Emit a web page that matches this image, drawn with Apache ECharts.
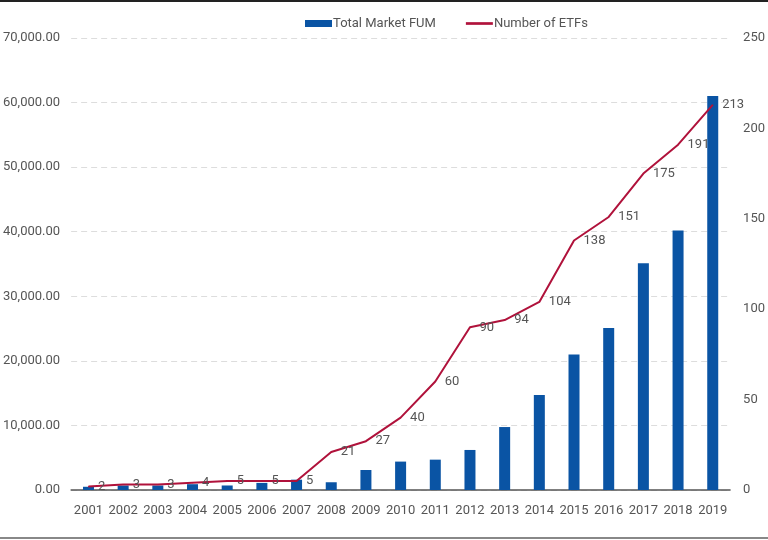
<!DOCTYPE html>
<html>
<head>
<meta charset="utf-8">
<script src="https://cdn.jsdelivr.net/npm/echarts@6/dist/echarts.min.js"></script>
<style>html,body{margin:0;padding:0;background:#fff;}#c{width:768px;height:540px;}</style>
</head>
<body>
<div id="c"></div>
<script>
const years = ['2001','2002','2003','2004','2005','2006','2007','2008','2009','2010','2011','2012','2013','2014','2015','2016','2017','2018','2019'];
const totalMarketFUM = [500,700,700,900,700,1100,1600,1200,3100,4400,4700,6200,9750,14700,21000,25100,35100,40200,61000];
const numberOfETFs = [2,3,3,4,5,5,5,21,27,40,60,90,94,104,138,151,175,191,213];
const leftTicks = [0,10000,20000,30000,40000,50000,60000,70000];
const rightTicks = [0,50,100,150,200,250];

const FONT = "'Roboto',sans-serif";
const chart = echarts.init(document.getElementById('c'));
chart.setOption({
  animation: false,
  textStyle: {fontFamily: FONT},
  graphic: [
    {type:'rect', shape:{x:0,y:0,width:768,height:2}, style:{fill:'#222'}},
    {type:'rect', shape:{x:0,y:537,width:768,height:2}, style:{fill:'#888'}}
  ],
  legend: {
    top: 12, left: 300,
    itemWidth: 27, itemHeight: 7, itemGap: 30,
    textStyle: {fontFamily: FONT, fontSize: 13, color: '#555', padding:[0,0,0,-4]},
    data: [
      {name:'Total Market FUM', icon:'rect'},
      {name:'Number of ETFs', icon:'path://M0,0L10,0L10,1L0,1Z', itemStyle:{color:'#b0123b'}}
    ]
  },
  grid: {left: 63, right: 35, top: 38, bottom: 50},
  xAxis: {
    type: 'category', data: years,
    axisLine: {lineStyle: {color: '#555', width: 1.5}},
    axisTick: {show: false},
    axisLabel: {color: '#555', fontSize: 13, margin: 14, interval: 0, fontFamily: FONT}
  },
  yAxis: [
    {
      type: 'value', min: leftTicks[0], max: leftTicks[leftTicks.length-1], interval: 10000,
      axisLine: {show: false}, axisTick: {show: false},
      axisLabel: {color: '#555', fontSize: 13, margin: 11, fontFamily: FONT,
        formatter: v => v.toLocaleString('en-US', {minimumFractionDigits: 2, maximumFractionDigits: 2})},
      splitLine: {lineStyle: {color: '#ddd', type: [6,4]}}
    },
    {
      type: 'value', min: rightTicks[0], max: rightTicks[rightTicks.length-1], interval: 50,
      axisLine: {show: false}, axisTick: {show: false},
      axisLabel: {color: '#555', fontSize: 13, margin: 13, fontFamily: FONT},
      splitLine: {show: false}
    }
  ],
  series: [
    {
      name: 'Total Market FUM', type: 'bar', data: totalMarketFUM, yAxisIndex: 0,
      barWidth: 11, itemStyle: {color: '#0a54a4'}
    },
    {
      name: 'Number of ETFs', type: 'line', data: numberOfETFs, yAxisIndex: 1,
      symbol: 'circle', symbolSize: 1, showSymbol: true,
      lineStyle: {color: '#b0123b', width: 2}, itemStyle: {color: '#b0123b'},
      label: {show: true, position: 'right', distance: 9, color: '#555', fontSize: 13, fontFamily: FONT},
      labelLayout: {hideOverlap: false}
    }
  ]
});
</script>
</body>
</html>
